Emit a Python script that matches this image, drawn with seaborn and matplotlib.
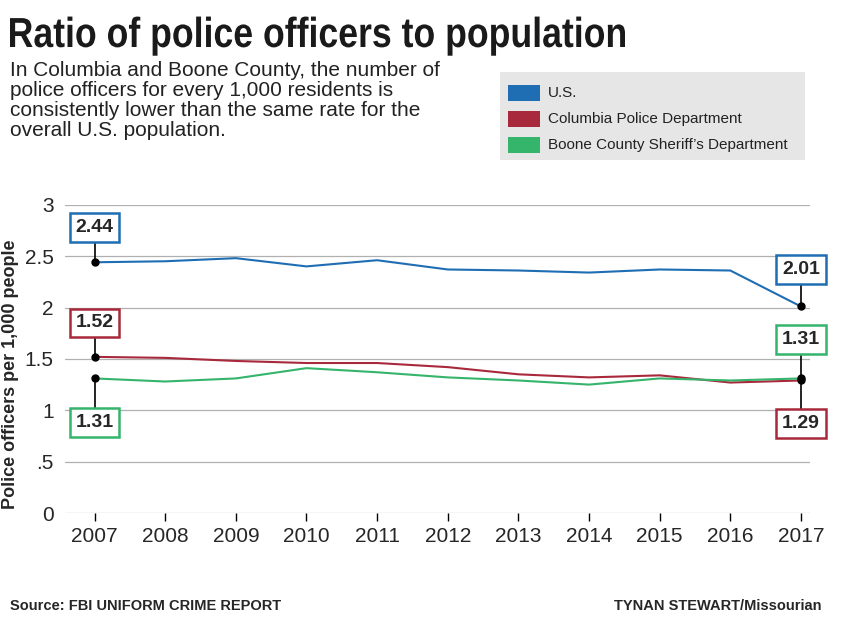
import matplotlib
matplotlib.use("Agg")
import matplotlib.pyplot as plt
import seaborn as sns
import pandas as pd
from matplotlib.patches import Rectangle, PathPatch
from matplotlib.textpath import TextPath
from matplotlib.font_manager import FontProperties
from matplotlib.transforms import Affine2D, IdentityTransform

years = list(range(2007, 2018))
us = [2.44, 2.45, 2.48, 2.40, 2.46, 2.37, 2.36, 2.34, 2.37, 2.36, 2.01]
columbia = [1.52, 1.51, 1.48, 1.46, 1.46, 1.42, 1.35, 1.32, 1.34, 1.27, 1.29]
boone = [1.31, 1.28, 1.31, 1.41, 1.37, 1.32, 1.29, 1.25, 1.31, 1.29, 1.31]
names = ["U.S.", "Columbia Police Department", "Boone County Sheriff\u2019s Department"]
colors = ["#1f6db3", "#a8293b", "#35b46b"]
ytick_labels = ["0", ".5", "1", "1.5", "2", "2.5", "3"]

sns.set_theme(style="white")
plt.rcParams['font.family'] = ['Liberation Sans', 'DejaVu Sans']

df = pd.DataFrame({"year": years * 3,
                   "value": us + columbia + boone,
                   "series": [names[0]] * 11 + [names[1]] * 11 + [names[2]] * 11})

fig = plt.figure(figsize=(8.43, 6.28), dpi=100)
ax = fig.add_axes([0.077, 0.183, 0.884, 0.491])
for y in [0.5, 1, 1.5, 2, 2.5, 3, 0]:
    ax.axhline(y, color="#b0b0b0", lw=0.9, zorder=0)
sns.lineplot(data=df, x="year", y="value", hue="series", palette=colors,
             hue_order=names, legend=False, ax=ax, lw=1.5)
ax.set_xlim(2006.58, 2017.13)
ax.set_ylim(0, 3)
ax.set_xticks(years)
ax.set_xticklabels([str(y) for y in years], fontsize=15)
ax.set_yticks([0, 0.5, 1, 1.5, 2, 2.5, 3])
ax.set_yticklabels(ytick_labels, fontsize=15)
ax.tick_params(axis='x', direction='out', length=6, width=1, color='black', pad=4, bottom=True)
ax.tick_params(axis='y', length=0, pad=8)
for s in ax.spines.values():
    s.set_visible(False)
ax.set_xlabel("")
ax.set_ylabel("Police officers per 1,000 people", fontsize=13, fontweight="bold")
ax.yaxis.set_label_coords(-0.062, 0.45)

ann = [(2007, us[0], 2.78, "2.44", colors[0]),
       (2017, us[-1], 2.37, "2.01", colors[0]),
       (2007, columbia[0], 1.85, "1.52", colors[1]),
       (2007, boone[0], 0.88, "1.31", colors[2]),
       (2017, boone[-1], 1.69, "1.31", colors[2]),
       (2017, columbia[-1], 0.87, "1.29", colors[1])]
for x, yp, yb, t, c in ann:
    ax.plot([x, x], [yp, yb], color="black", lw=1.2, zorder=3)
    ax.plot(x, yp, "o", color="black", ms=5, zorder=4)
    ax.text(x, yb, t, ha="center", va="center", fontsize=14, fontweight="bold", zorder=5,
            bbox=dict(boxstyle="square,pad=0.3", fc="white", ec=c, lw=1.8))

# condensed bold title via stretched text path
title = "Ratio of police officers to population"
tp = TextPath((0, 0), title, size=42, prop=FontProperties(family="Liberation Sans", weight="bold"))
bb = tp.get_extents()
sx = 615 / bb.width
tr = Affine2D().translate(-bb.x0, 0).scale(sx, 1.0).translate(10, 628 - 47)
fig.add_artist(PathPatch(tr.transform_path(tp), transform=IdentityTransform(),
                         fc="#1a1a1a", ec="none"))

fig.text(0.012, 0.84, "In Columbia and Boone County, the number of\npolice officers for every 1,000 residents is\nconsistently lower than the same rate for the\noverall U.S. population.",
         fontsize=15, va="center", linespacing=1.08, color="#222222")

fig.add_artist(Rectangle((500 / 843, 1 - 160 / 628), 305 / 843, 88 / 628,
                         transform=fig.transFigure, fc="#e6e6e6", ec="none"))
for i, (n, c) in enumerate(zip(names, colors)):
    yc = 1 - (93 + i * 26) / 628
    fig.add_artist(Rectangle((508 / 843, yc - 8 / 628), 32 / 843, 16 / 628,
                             transform=fig.transFigure, fc=c, ec="none"))
    fig.text(548 / 843, yc, n, fontsize=11, va="center", color="#222222")

fig.text(0.012, 0.035, "Source: FBI UNIFORM CRIME REPORT", fontsize=10.5, fontweight="bold", va="center")
fig.text(0.975, 0.035, "TYNAN STEWART/Missourian", fontsize=10.5, fontweight="bold", va="center", ha="right")

fig.savefig("out.png", dpi=100)
